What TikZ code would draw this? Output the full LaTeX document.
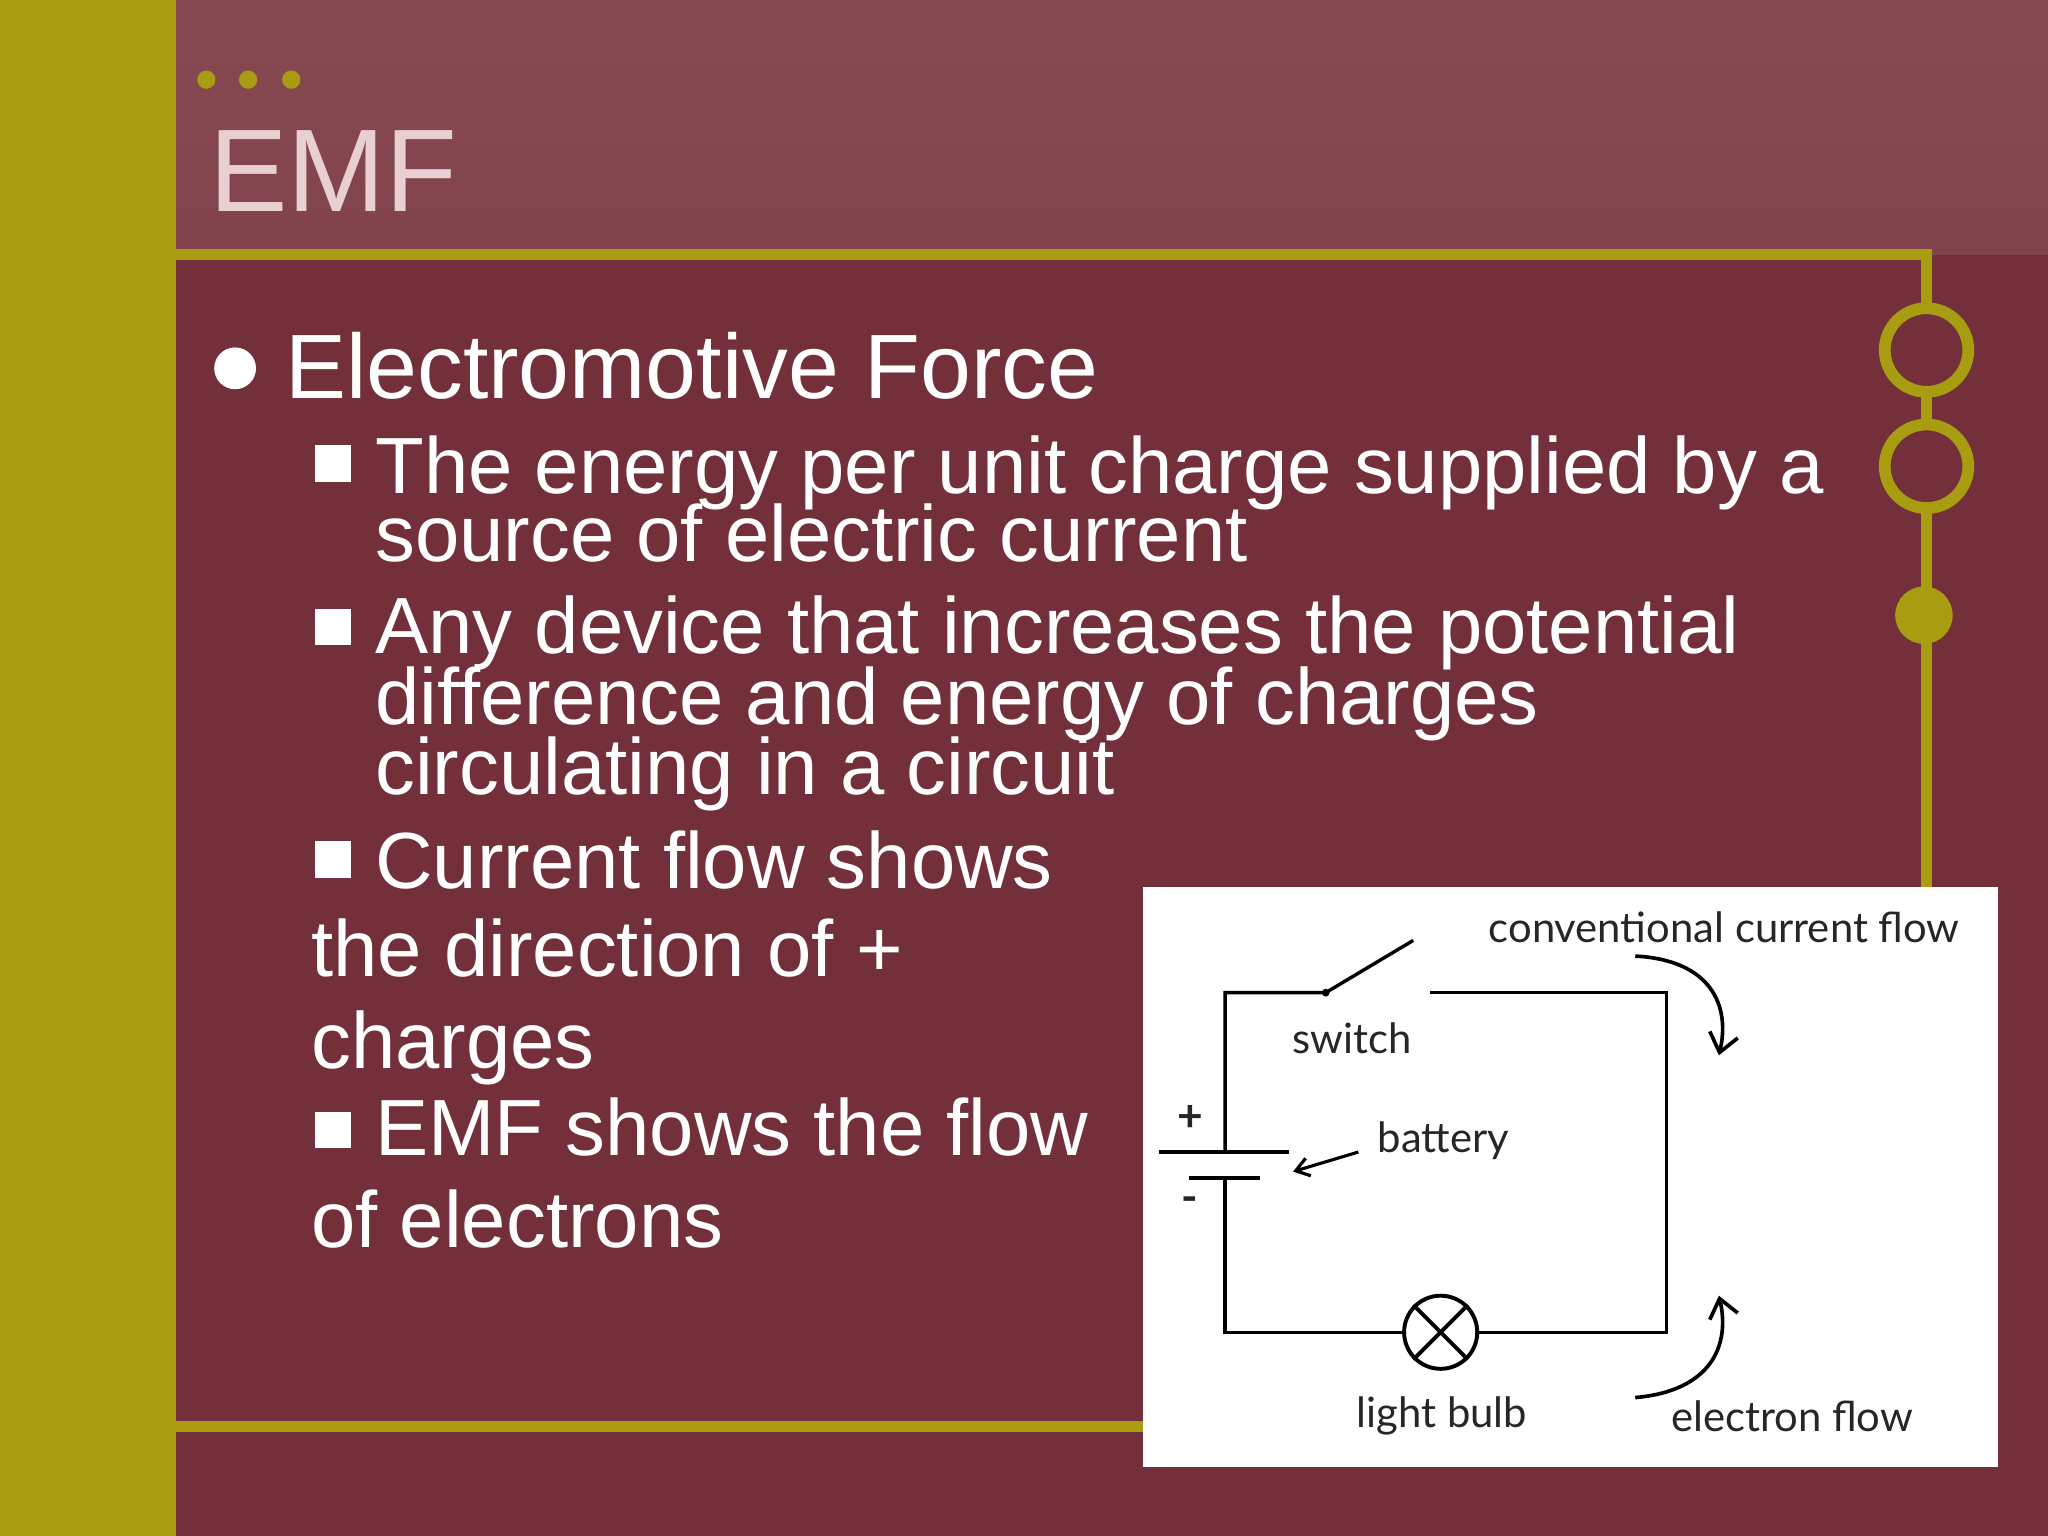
\documentclass[tikz,border=0pt]{standalone}
\usepackage{fontspec}
\setmainfont{Liberation Sans}
\newfontfamily\gill{Lato}
\usetikzlibrary{arrows.meta}
\begin{document}
\begin{tikzpicture}[x=0.5pt,y=-0.5pt,
  olive/.style={draw=oliveC,line width=4pt},
  slide/.style={anchor=base west,text=white,inner sep=0pt,font=\fontsize{30.5}{30.5}\selectfont},
  sq/.style={fill=white,minimum size=14pt,inner sep=0pt},
  lab/.style={font=\gill\fontsize{16}{16}\selectfont,text=black!85,inner sep=0pt},
  wire/.style={draw=black,line width=1.3pt},
  carr/.style={-{Straight Barb[length=7pt,width=11pt]},line width=1.4pt}]
\definecolor{oliveC}{HTML}{A89C10}
\definecolor{topC}{HTML}{874A53}
\definecolor{lowC}{HTML}{73303B}
\definecolor{titleC}{HTML}{E8D0D2}
\useasboundingbox (0,0) rectangle (1568,1176);
\fill[lowC] (0,0) rectangle (1568,1176);
\shade[top color=topC,bottom color=topC!70!lowC] (0,0) rectangle (1568,195);
\fill[oliveC] (0,0) rectangle (135,1176);
\draw[olive] (135,195) -- (1475,195) -- (1475,680);
\draw[olive] (135,1092) -- (875,1092);
\draw[draw=oliveC,line width=4.5pt,fill=lowC] (1475,268) circle (32);
\draw[draw=oliveC,line width=4.5pt,fill=lowC] (1475,357) circle (32);
\fill[oliveC] (1473,471) circle (22);
\foreach \x in {158,190,223} \fill[oliveC] (\x,61) circle (7);
\node[anchor=base west,text=titleC,inner sep=0pt,font=\fontsize{45}{45}\selectfont] (title) at (160,162) {EMF};
\fill[white] (180,282) circle (16);
\node[slide,font=\fontsize{35}{35}\selectfont] (b1) at (218,305) {Electromotive Force};
\node[sq] (s1) at (255,355) {};
\node[slide] (t1a) at (287,378) {The energy per unit charge supplied by a};
\node[slide] (t1b) at (287,430) {source of electric current};
\node[sq] (s2) at (255,480) {};
\node[slide] (t2a) at (287,500) {Any device that increases the potential};
\node[slide] (t2b) at (287,555) {difference and energy of charges};
\node[slide] (t2c) at (287,608) {circulating in a circuit};
\node[sq] (s3) at (255,658) {};
\node[slide] (t3a) at (287,680) {Current flow shows};
\node[slide] (t3b) at (238,748) {the direction of +};
\node[slide] (t3c) at (238,818) {charges};
\node[sq] (s4) at (255,865) {};
\node[slide] (t4a) at (287,885) {EMF shows the flow};
\node[slide] (t4b) at (238,955) {of electrons};
% circuit box
\fill[white] (875,679) rectangle (1530,1123);
\coordinate (piv) at (1015,760);
\coordinate (swe) at (1082,720);
\coordinate (tr) at (1276,760);
\coordinate (br) at (1276,1020);
\coordinate (bl) at (938,1020);
\coordinate (tl) at (938,760);
\node[circle,draw,line width=1.5pt,minimum size=28pt,inner sep=0pt] (bulb) at (1103,1020) {};
\draw[wire] (1095,760) -- (tr) -- (br) -- (bulb.east);
\draw[wire] (bulb.west) -- (bl) -- (938,902);
\draw[wire] (938,882) -- (tl) -- (piv) -- (swe);
\fill (piv) circle (3);
\draw[wire] (887,882) -- (987,882);
\draw[wire] (910,902) -- (965,902);
\draw[line width=1.5pt] (bulb.north west) -- (bulb.south east) (bulb.north east) -- (bulb.south west);
\node[lab] (sw) at (1035,795) {switch};
\node[lab] (bat) at (1105,873) {battery};
\coordinate (bt) at (990,897);
\draw[-{Straight Barb[length=5pt,width=7pt]},line width=1.2pt] (1040,882) -- (bt);
\node[lab,font=\gill\fontsize{17}{17}\selectfont\bfseries] (plus) at (911,856) {+};
\node[lab,font=\gill\fontsize{17}{17}\selectfont\bfseries] (minus) at (911,922) {-};
\node[lab] (ccf) at (1320,710) {conventional current flow};
\node[lab] (lb) at (1104,1084) {light bulb};
\node[lab] (ef) at (1372,1084) {electron flow};
\draw[carr] (1252,732) .. controls (1310,735) and (1325,770) .. (1316,808);
\draw[carr] (1252,1070) .. controls (1310,1065) and (1325,1030) .. (1316,992);
\end{tikzpicture}
\end{document}
